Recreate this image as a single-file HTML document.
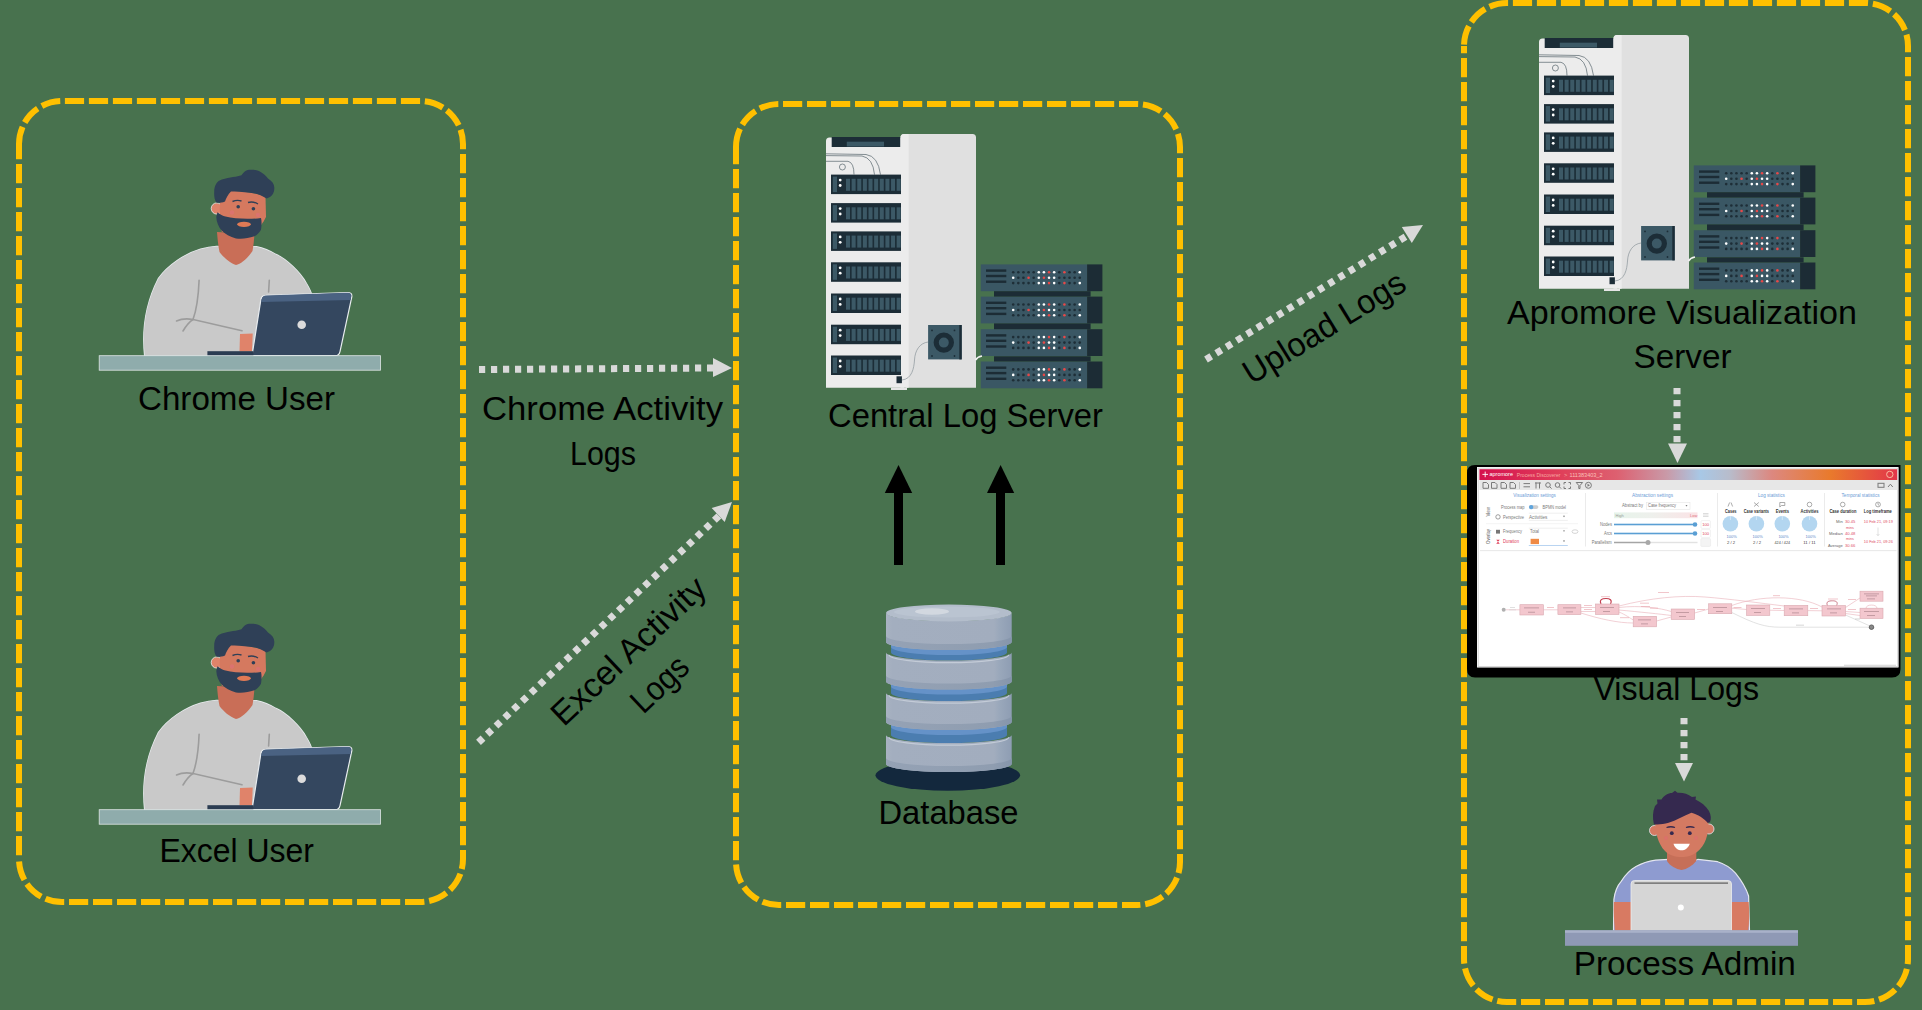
<!DOCTYPE html>
<html><head><meta charset="utf-8">
<style>
html,body{margin:0;padding:0;background:#48724e;width:1922px;height:1010px;overflow:hidden}
svg{display:block}
text{font-family:"Liberation Sans",sans-serif}
</style></head>
<body>
<svg width="1922" height="1010" viewBox="0 0 1922 1010">
<rect x="0" y="0" width="1922" height="1010" fill="#48724e"/>
<!-- dashed boxes -->
<g fill="none" stroke="#ffc000" stroke-width="6" stroke-dasharray="19.2 4.8">
<path d="M62,101 L420,101" stroke-dashoffset="21.10"/>
<path d="M463,144 L463,859" stroke-dashoffset="14.00"/>
<path d="M62,902 L420,902" stroke-dashoffset="17.00"/>
<path d="M19,144 L19,859" stroke-dashoffset="4.00"/>
<path d="M19,144 A43 43 0 0 1 62,101" stroke-dashoffset="1.56"/>
<path d="M420,101 A43 43 0 0 1 463,144" stroke-dashoffset="19.10"/>
<path d="M463,859 A43 43 0 0 1 420,902" stroke-dashoffset="9.00"/>
<path d="M19,859 A43 43 0 0 0 62,902" stroke-dashoffset="21.46"/>
<path d="M779,104 L1137,104" stroke-dashoffset="20.00"/>
<path d="M1180,147 L1180,862" stroke-dashoffset="13.00"/>
<path d="M779,905 L1137,905" stroke-dashoffset="17.00"/>
<path d="M736,147 L736,862" stroke-dashoffset="2.00"/>
<path d="M736,147 A43 43 0 0 1 779,104" stroke-dashoffset="0.46"/>
<path d="M1137,104 A43 43 0 0 1 1180,147" stroke-dashoffset="18.00"/>
<path d="M1180,862 A43 43 0 0 1 1137,905" stroke-dashoffset="8.00"/>
<path d="M736,862 A43 43 0 0 0 779,905" stroke-dashoffset="21.46"/>
<path d="M1507,3 L1865,3" stroke-dashoffset="18.10"/>
<path d="M1908,46 L1908,959" stroke-dashoffset="13.00"/>
<path d="M1507,1002 L1865,1002" stroke-dashoffset="10.00"/>
<path d="M1464,46 L1464,959" stroke-dashoffset="12.00"/>
<path d="M1464,46 A43 43 0 0 1 1507,3" stroke-dashoffset="22.56"/>
<path d="M1865,3 A43 43 0 0 1 1908,46" stroke-dashoffset="16.10"/>
<path d="M1908,959 A43 43 0 0 1 1865,1002" stroke-dashoffset="14.00"/>
<path d="M1464,959 A43 43 0 0 0 1507,1002" stroke-dashoffset="14.46"/>
</g>
<g id="srv">
<path d="M826,141 Q826,137.5 829.5,137.5 L904,137.5 L904,387.8 L826,387.8 Z" fill="#ececec"/>
<path d="M900.5,137.5 Q900.5,134 904,134 L972.5,134 Q976,134 976,137.5 L976,387.8 L906,387.8 L906,137.5 Z" fill="#e0e0e0"/>
<path d="M900.5,137.5 Q900.5,134 904,134 L908.6,134 L908.6,387.8 L900.5,387.8 Z" fill="#ececec"/>
<rect x="831.7" y="137" width="68.5" height="10" fill="#1c2d37"/>
<rect x="846.8" y="141.7" width="37.2" height="4.8" fill="#3c5966"/>
<g fill="none" stroke="#56646b" stroke-width="0.7">
<path d="M826,153.8 L866,154.5 Q878,156 880.5,174.6"/>
<path d="M826,155.6 L862,156 Q873,158 874.5,174.6"/>
<path d="M826,161.3 L848,161.3 Q854,162.5 854,174.6"/>
<circle cx="842.4" cy="167" r="3"/>
</g>
<g transform="translate(0,174.6)">
<rect x="831" y="0" width="70" height="19.5" fill="#1c2d37"/>
<rect x="832.8" y="2" width="4.2" height="15.5" fill="#3c5966"/>
<circle cx="840.2" cy="5.5" r="1.4" fill="#fff"/><circle cx="840.2" cy="10.9" r="1.4" fill="#fff"/>
<rect x="846.00" y="4.2" width="4.00" height="12" fill="#3c5966"/>
<rect x="851.63" y="4.2" width="4.00" height="12" fill="#3c5966"/>
<rect x="857.26" y="4.2" width="4.00" height="12" fill="#3c5966"/>
<rect x="862.89" y="4.2" width="4.00" height="12" fill="#3c5966"/>
<rect x="868.52" y="4.2" width="4.00" height="12" fill="#3c5966"/>
<rect x="874.15" y="4.2" width="4.00" height="12" fill="#3c5966"/>
<rect x="879.78" y="4.2" width="4.00" height="12" fill="#3c5966"/>
<rect x="885.41" y="4.2" width="4.00" height="12" fill="#3c5966"/>
<rect x="891.04" y="4.2" width="4.00" height="12" fill="#3c5966"/>
<rect x="896.67" y="4.2" width="4.00" height="12" fill="#3c5966"/>
</g>
<g transform="translate(0,203.1)">
<rect x="831" y="0" width="70" height="19.5" fill="#1c2d37"/>
<rect x="832.8" y="2" width="4.2" height="15.5" fill="#3c5966"/>
<circle cx="840.2" cy="5.5" r="1.4" fill="#fff"/><circle cx="840.2" cy="10.9" r="1.4" fill="#fff"/>
<rect x="846.00" y="4.2" width="4.00" height="12" fill="#3c5966"/>
<rect x="851.63" y="4.2" width="4.00" height="12" fill="#3c5966"/>
<rect x="857.26" y="4.2" width="4.00" height="12" fill="#3c5966"/>
<rect x="862.89" y="4.2" width="4.00" height="12" fill="#3c5966"/>
<rect x="868.52" y="4.2" width="4.00" height="12" fill="#3c5966"/>
<rect x="874.15" y="4.2" width="4.00" height="12" fill="#3c5966"/>
<rect x="879.78" y="4.2" width="4.00" height="12" fill="#3c5966"/>
<rect x="885.41" y="4.2" width="4.00" height="12" fill="#3c5966"/>
<rect x="891.04" y="4.2" width="4.00" height="12" fill="#3c5966"/>
<rect x="896.67" y="4.2" width="4.00" height="12" fill="#3c5966"/>
</g>
<g transform="translate(0,231.4)">
<rect x="831" y="0" width="70" height="19.5" fill="#1c2d37"/>
<rect x="832.8" y="2" width="4.2" height="15.5" fill="#3c5966"/>
<circle cx="840.2" cy="5.5" r="1.4" fill="#fff"/><circle cx="840.2" cy="10.9" r="1.4" fill="#fff"/>
<rect x="846.00" y="4.2" width="4.00" height="12" fill="#3c5966"/>
<rect x="851.63" y="4.2" width="4.00" height="12" fill="#3c5966"/>
<rect x="857.26" y="4.2" width="4.00" height="12" fill="#3c5966"/>
<rect x="862.89" y="4.2" width="4.00" height="12" fill="#3c5966"/>
<rect x="868.52" y="4.2" width="4.00" height="12" fill="#3c5966"/>
<rect x="874.15" y="4.2" width="4.00" height="12" fill="#3c5966"/>
<rect x="879.78" y="4.2" width="4.00" height="12" fill="#3c5966"/>
<rect x="885.41" y="4.2" width="4.00" height="12" fill="#3c5966"/>
<rect x="891.04" y="4.2" width="4.00" height="12" fill="#3c5966"/>
<rect x="896.67" y="4.2" width="4.00" height="12" fill="#3c5966"/>
</g>
<g transform="translate(0,262.3)">
<rect x="831" y="0" width="70" height="19.5" fill="#1c2d37"/>
<rect x="832.8" y="2" width="4.2" height="15.5" fill="#3c5966"/>
<circle cx="840.2" cy="5.5" r="1.4" fill="#fff"/><circle cx="840.2" cy="10.9" r="1.4" fill="#fff"/>
<rect x="846.00" y="4.2" width="4.00" height="12" fill="#3c5966"/>
<rect x="851.63" y="4.2" width="4.00" height="12" fill="#3c5966"/>
<rect x="857.26" y="4.2" width="4.00" height="12" fill="#3c5966"/>
<rect x="862.89" y="4.2" width="4.00" height="12" fill="#3c5966"/>
<rect x="868.52" y="4.2" width="4.00" height="12" fill="#3c5966"/>
<rect x="874.15" y="4.2" width="4.00" height="12" fill="#3c5966"/>
<rect x="879.78" y="4.2" width="4.00" height="12" fill="#3c5966"/>
<rect x="885.41" y="4.2" width="4.00" height="12" fill="#3c5966"/>
<rect x="891.04" y="4.2" width="4.00" height="12" fill="#3c5966"/>
<rect x="896.67" y="4.2" width="4.00" height="12" fill="#3c5966"/>
</g>
<g transform="translate(0,293.5)">
<rect x="831" y="0" width="70" height="19.5" fill="#1c2d37"/>
<rect x="832.8" y="2" width="4.2" height="15.5" fill="#3c5966"/>
<circle cx="840.2" cy="5.5" r="1.4" fill="#fff"/><circle cx="840.2" cy="10.9" r="1.4" fill="#fff"/>
<rect x="846.00" y="4.2" width="4.00" height="12" fill="#3c5966"/>
<rect x="851.63" y="4.2" width="4.00" height="12" fill="#3c5966"/>
<rect x="857.26" y="4.2" width="4.00" height="12" fill="#3c5966"/>
<rect x="862.89" y="4.2" width="4.00" height="12" fill="#3c5966"/>
<rect x="868.52" y="4.2" width="4.00" height="12" fill="#3c5966"/>
<rect x="874.15" y="4.2" width="4.00" height="12" fill="#3c5966"/>
<rect x="879.78" y="4.2" width="4.00" height="12" fill="#3c5966"/>
<rect x="885.41" y="4.2" width="4.00" height="12" fill="#3c5966"/>
<rect x="891.04" y="4.2" width="4.00" height="12" fill="#3c5966"/>
<rect x="896.67" y="4.2" width="4.00" height="12" fill="#3c5966"/>
</g>
<g transform="translate(0,324.7)">
<rect x="831" y="0" width="70" height="19.5" fill="#1c2d37"/>
<rect x="832.8" y="2" width="4.2" height="15.5" fill="#3c5966"/>
<circle cx="840.2" cy="5.5" r="1.4" fill="#fff"/><circle cx="840.2" cy="10.9" r="1.4" fill="#fff"/>
<rect x="846.00" y="4.2" width="4.00" height="12" fill="#3c5966"/>
<rect x="851.63" y="4.2" width="4.00" height="12" fill="#3c5966"/>
<rect x="857.26" y="4.2" width="4.00" height="12" fill="#3c5966"/>
<rect x="862.89" y="4.2" width="4.00" height="12" fill="#3c5966"/>
<rect x="868.52" y="4.2" width="4.00" height="12" fill="#3c5966"/>
<rect x="874.15" y="4.2" width="4.00" height="12" fill="#3c5966"/>
<rect x="879.78" y="4.2" width="4.00" height="12" fill="#3c5966"/>
<rect x="885.41" y="4.2" width="4.00" height="12" fill="#3c5966"/>
<rect x="891.04" y="4.2" width="4.00" height="12" fill="#3c5966"/>
<rect x="896.67" y="4.2" width="4.00" height="12" fill="#3c5966"/>
</g>
<g transform="translate(0,355.5)">
<rect x="831" y="0" width="70" height="19.5" fill="#1c2d37"/>
<rect x="832.8" y="2" width="4.2" height="15.5" fill="#3c5966"/>
<circle cx="840.2" cy="5.5" r="1.4" fill="#fff"/><circle cx="840.2" cy="10.9" r="1.4" fill="#fff"/>
<rect x="846.00" y="4.2" width="4.00" height="12" fill="#3c5966"/>
<rect x="851.63" y="4.2" width="4.00" height="12" fill="#3c5966"/>
<rect x="857.26" y="4.2" width="4.00" height="12" fill="#3c5966"/>
<rect x="862.89" y="4.2" width="4.00" height="12" fill="#3c5966"/>
<rect x="868.52" y="4.2" width="4.00" height="12" fill="#3c5966"/>
<rect x="874.15" y="4.2" width="4.00" height="12" fill="#3c5966"/>
<rect x="879.78" y="4.2" width="4.00" height="12" fill="#3c5966"/>
<rect x="885.41" y="4.2" width="4.00" height="12" fill="#3c5966"/>
<rect x="891.04" y="4.2" width="4.00" height="12" fill="#3c5966"/>
<rect x="896.67" y="4.2" width="4.00" height="12" fill="#3c5966"/>
</g>
<rect x="928.1" y="325" width="33.6" height="34.4" fill="#3c5966"/>
<rect x="959.3" y="325" width="2.4" height="34.4" fill="#1c2d37"/>
<circle cx="943.8" cy="342.6" r="7.6" fill="none" stroke="#1c2d37" stroke-width="5.2"/>
<circle cx="932" cy="330.4" r="0.9" fill="#1c2d37"/>
<circle cx="954.5" cy="330.4" r="0.9" fill="#1c2d37"/>
<circle cx="932" cy="356" r="0.9" fill="#1c2d37"/>
<circle cx="954.5" cy="356" r="0.9" fill="#1c2d37"/>
<rect x="896.5" y="376.3" width="5.4" height="6.9" fill="#1c2d37"/>
<path d="M902,380 C912,379 914,368 914.5,360 C915,350 920,343 928.1,342" fill="none" stroke="#8a9499" stroke-width="0.7"/>
<g transform="translate(0,264.4)">
<rect x="980.8" y="0" width="106.3" height="26.8" fill="#3a5764"/>
<rect x="1087.1" y="0" width="15.3" height="26.8" fill="#1c2c35"/>
<rect x="986" y="5.0" width="20.3" height="2.4" fill="#1c2c35"/>
<rect x="986" y="10.4" width="20.3" height="2.4" fill="#1c2c35"/>
<rect x="986" y="16.1" width="20.3" height="2.4" fill="#1c2c35"/>
<circle cx="1013.20" cy="7.9" r="1.3" fill="#1e2e37"/>
<circle cx="1018.32" cy="7.9" r="1.3" fill="#1e2e37"/>
<circle cx="1023.44" cy="7.9" r="1.3" fill="#1e2e37"/>
<circle cx="1028.56" cy="7.9" r="1.3" fill="#1e2e37"/>
<circle cx="1033.68" cy="7.9" r="1.3" fill="#1e2e37"/>
<circle cx="1038.80" cy="7.9" r="1.3" fill="#ffffff"/>
<circle cx="1043.92" cy="7.9" r="1.3" fill="#ffffff"/>
<circle cx="1049.04" cy="7.9" r="1.3" fill="#e84848"/>
<circle cx="1054.16" cy="7.9" r="1.3" fill="#ffffff"/>
<circle cx="1059.28" cy="7.9" r="1.3" fill="#1e2e37"/>
<circle cx="1064.40" cy="7.9" r="1.3" fill="#e84848"/>
<circle cx="1069.52" cy="7.9" r="1.3" fill="#1e2e37"/>
<circle cx="1074.64" cy="7.9" r="1.3" fill="#1e2e37"/>
<circle cx="1079.76" cy="7.9" r="1.3" fill="#ffffff"/>
<circle cx="1013.20" cy="13.4" r="1.3" fill="#ffffff"/>
<circle cx="1018.32" cy="13.4" r="1.3" fill="#1e2e37"/>
<circle cx="1023.44" cy="13.4" r="1.3" fill="#1e2e37"/>
<circle cx="1028.56" cy="13.4" r="1.3" fill="#e84848"/>
<circle cx="1033.68" cy="13.4" r="1.3" fill="#1e2e37"/>
<circle cx="1038.80" cy="13.4" r="1.3" fill="#ffffff"/>
<circle cx="1043.92" cy="13.4" r="1.3" fill="#e84848"/>
<circle cx="1049.04" cy="13.4" r="1.3" fill="#ffffff"/>
<circle cx="1054.16" cy="13.4" r="1.3" fill="#ffffff"/>
<circle cx="1059.28" cy="13.4" r="1.3" fill="#1e2e37"/>
<circle cx="1064.40" cy="13.4" r="1.3" fill="#1e2e37"/>
<circle cx="1069.52" cy="13.4" r="1.3" fill="#1e2e37"/>
<circle cx="1074.64" cy="13.4" r="1.3" fill="#1e2e37"/>
<circle cx="1079.76" cy="13.4" r="1.3" fill="#1e2e37"/>
<circle cx="1013.20" cy="18.7" r="1.3" fill="#1e2e37"/>
<circle cx="1018.32" cy="18.7" r="1.3" fill="#1e2e37"/>
<circle cx="1023.44" cy="18.7" r="1.3" fill="#1e2e37"/>
<circle cx="1028.56" cy="18.7" r="1.3" fill="#1e2e37"/>
<circle cx="1033.68" cy="18.7" r="1.3" fill="#1e2e37"/>
<circle cx="1038.80" cy="18.7" r="1.3" fill="#ffffff"/>
<circle cx="1043.92" cy="18.7" r="1.3" fill="#ffffff"/>
<circle cx="1049.04" cy="18.7" r="1.3" fill="#e84848"/>
<circle cx="1054.16" cy="18.7" r="1.3" fill="#ffffff"/>
<circle cx="1059.28" cy="18.7" r="1.3" fill="#1e2e37"/>
<circle cx="1064.40" cy="18.7" r="1.3" fill="#e84848"/>
<circle cx="1069.52" cy="18.7" r="1.3" fill="#1e2e37"/>
<circle cx="1074.64" cy="18.7" r="1.3" fill="#1e2e37"/>
<circle cx="1079.76" cy="18.7" r="1.3" fill="#ffffff"/>
</g>
<g transform="translate(0,296.6)">
<rect x="980.8" y="0" width="106.3" height="26.8" fill="#3a5764"/>
<rect x="1087.1" y="0" width="15.3" height="26.8" fill="#1c2c35"/>
<rect x="986" y="5.0" width="20.3" height="2.4" fill="#1c2c35"/>
<rect x="986" y="10.4" width="20.3" height="2.4" fill="#1c2c35"/>
<rect x="986" y="16.1" width="20.3" height="2.4" fill="#1c2c35"/>
<circle cx="1013.20" cy="7.9" r="1.3" fill="#1e2e37"/>
<circle cx="1018.32" cy="7.9" r="1.3" fill="#1e2e37"/>
<circle cx="1023.44" cy="7.9" r="1.3" fill="#1e2e37"/>
<circle cx="1028.56" cy="7.9" r="1.3" fill="#1e2e37"/>
<circle cx="1033.68" cy="7.9" r="1.3" fill="#1e2e37"/>
<circle cx="1038.80" cy="7.9" r="1.3" fill="#ffffff"/>
<circle cx="1043.92" cy="7.9" r="1.3" fill="#ffffff"/>
<circle cx="1049.04" cy="7.9" r="1.3" fill="#e84848"/>
<circle cx="1054.16" cy="7.9" r="1.3" fill="#ffffff"/>
<circle cx="1059.28" cy="7.9" r="1.3" fill="#1e2e37"/>
<circle cx="1064.40" cy="7.9" r="1.3" fill="#e84848"/>
<circle cx="1069.52" cy="7.9" r="1.3" fill="#1e2e37"/>
<circle cx="1074.64" cy="7.9" r="1.3" fill="#1e2e37"/>
<circle cx="1079.76" cy="7.9" r="1.3" fill="#ffffff"/>
<circle cx="1013.20" cy="13.4" r="1.3" fill="#ffffff"/>
<circle cx="1018.32" cy="13.4" r="1.3" fill="#1e2e37"/>
<circle cx="1023.44" cy="13.4" r="1.3" fill="#1e2e37"/>
<circle cx="1028.56" cy="13.4" r="1.3" fill="#e84848"/>
<circle cx="1033.68" cy="13.4" r="1.3" fill="#1e2e37"/>
<circle cx="1038.80" cy="13.4" r="1.3" fill="#ffffff"/>
<circle cx="1043.92" cy="13.4" r="1.3" fill="#e84848"/>
<circle cx="1049.04" cy="13.4" r="1.3" fill="#ffffff"/>
<circle cx="1054.16" cy="13.4" r="1.3" fill="#ffffff"/>
<circle cx="1059.28" cy="13.4" r="1.3" fill="#1e2e37"/>
<circle cx="1064.40" cy="13.4" r="1.3" fill="#1e2e37"/>
<circle cx="1069.52" cy="13.4" r="1.3" fill="#1e2e37"/>
<circle cx="1074.64" cy="13.4" r="1.3" fill="#1e2e37"/>
<circle cx="1079.76" cy="13.4" r="1.3" fill="#1e2e37"/>
<circle cx="1013.20" cy="18.7" r="1.3" fill="#1e2e37"/>
<circle cx="1018.32" cy="18.7" r="1.3" fill="#1e2e37"/>
<circle cx="1023.44" cy="18.7" r="1.3" fill="#1e2e37"/>
<circle cx="1028.56" cy="18.7" r="1.3" fill="#1e2e37"/>
<circle cx="1033.68" cy="18.7" r="1.3" fill="#1e2e37"/>
<circle cx="1038.80" cy="18.7" r="1.3" fill="#ffffff"/>
<circle cx="1043.92" cy="18.7" r="1.3" fill="#ffffff"/>
<circle cx="1049.04" cy="18.7" r="1.3" fill="#e84848"/>
<circle cx="1054.16" cy="18.7" r="1.3" fill="#ffffff"/>
<circle cx="1059.28" cy="18.7" r="1.3" fill="#1e2e37"/>
<circle cx="1064.40" cy="18.7" r="1.3" fill="#e84848"/>
<circle cx="1069.52" cy="18.7" r="1.3" fill="#1e2e37"/>
<circle cx="1074.64" cy="18.7" r="1.3" fill="#1e2e37"/>
<circle cx="1079.76" cy="18.7" r="1.3" fill="#ffffff"/>
</g>
<g transform="translate(0,329.2)">
<rect x="980.8" y="0" width="106.3" height="26.8" fill="#3a5764"/>
<rect x="1087.1" y="0" width="15.3" height="26.8" fill="#1c2c35"/>
<rect x="986" y="5.0" width="20.3" height="2.4" fill="#1c2c35"/>
<rect x="986" y="10.4" width="20.3" height="2.4" fill="#1c2c35"/>
<rect x="986" y="16.1" width="20.3" height="2.4" fill="#1c2c35"/>
<circle cx="1013.20" cy="7.9" r="1.3" fill="#1e2e37"/>
<circle cx="1018.32" cy="7.9" r="1.3" fill="#1e2e37"/>
<circle cx="1023.44" cy="7.9" r="1.3" fill="#1e2e37"/>
<circle cx="1028.56" cy="7.9" r="1.3" fill="#1e2e37"/>
<circle cx="1033.68" cy="7.9" r="1.3" fill="#1e2e37"/>
<circle cx="1038.80" cy="7.9" r="1.3" fill="#ffffff"/>
<circle cx="1043.92" cy="7.9" r="1.3" fill="#ffffff"/>
<circle cx="1049.04" cy="7.9" r="1.3" fill="#e84848"/>
<circle cx="1054.16" cy="7.9" r="1.3" fill="#ffffff"/>
<circle cx="1059.28" cy="7.9" r="1.3" fill="#1e2e37"/>
<circle cx="1064.40" cy="7.9" r="1.3" fill="#e84848"/>
<circle cx="1069.52" cy="7.9" r="1.3" fill="#1e2e37"/>
<circle cx="1074.64" cy="7.9" r="1.3" fill="#1e2e37"/>
<circle cx="1079.76" cy="7.9" r="1.3" fill="#ffffff"/>
<circle cx="1013.20" cy="13.4" r="1.3" fill="#ffffff"/>
<circle cx="1018.32" cy="13.4" r="1.3" fill="#1e2e37"/>
<circle cx="1023.44" cy="13.4" r="1.3" fill="#1e2e37"/>
<circle cx="1028.56" cy="13.4" r="1.3" fill="#e84848"/>
<circle cx="1033.68" cy="13.4" r="1.3" fill="#1e2e37"/>
<circle cx="1038.80" cy="13.4" r="1.3" fill="#ffffff"/>
<circle cx="1043.92" cy="13.4" r="1.3" fill="#e84848"/>
<circle cx="1049.04" cy="13.4" r="1.3" fill="#ffffff"/>
<circle cx="1054.16" cy="13.4" r="1.3" fill="#ffffff"/>
<circle cx="1059.28" cy="13.4" r="1.3" fill="#1e2e37"/>
<circle cx="1064.40" cy="13.4" r="1.3" fill="#1e2e37"/>
<circle cx="1069.52" cy="13.4" r="1.3" fill="#1e2e37"/>
<circle cx="1074.64" cy="13.4" r="1.3" fill="#1e2e37"/>
<circle cx="1079.76" cy="13.4" r="1.3" fill="#1e2e37"/>
<circle cx="1013.20" cy="18.7" r="1.3" fill="#1e2e37"/>
<circle cx="1018.32" cy="18.7" r="1.3" fill="#1e2e37"/>
<circle cx="1023.44" cy="18.7" r="1.3" fill="#1e2e37"/>
<circle cx="1028.56" cy="18.7" r="1.3" fill="#1e2e37"/>
<circle cx="1033.68" cy="18.7" r="1.3" fill="#1e2e37"/>
<circle cx="1038.80" cy="18.7" r="1.3" fill="#ffffff"/>
<circle cx="1043.92" cy="18.7" r="1.3" fill="#ffffff"/>
<circle cx="1049.04" cy="18.7" r="1.3" fill="#e84848"/>
<circle cx="1054.16" cy="18.7" r="1.3" fill="#ffffff"/>
<circle cx="1059.28" cy="18.7" r="1.3" fill="#1e2e37"/>
<circle cx="1064.40" cy="18.7" r="1.3" fill="#e84848"/>
<circle cx="1069.52" cy="18.7" r="1.3" fill="#1e2e37"/>
<circle cx="1074.64" cy="18.7" r="1.3" fill="#1e2e37"/>
<circle cx="1079.76" cy="18.7" r="1.3" fill="#ffffff"/>
</g>
<g transform="translate(0,361.5)">
<rect x="980.8" y="0" width="106.3" height="26.8" fill="#3a5764"/>
<rect x="1087.1" y="0" width="15.3" height="26.8" fill="#1c2c35"/>
<rect x="986" y="5.0" width="20.3" height="2.4" fill="#1c2c35"/>
<rect x="986" y="10.4" width="20.3" height="2.4" fill="#1c2c35"/>
<rect x="986" y="16.1" width="20.3" height="2.4" fill="#1c2c35"/>
<circle cx="1013.20" cy="7.9" r="1.3" fill="#1e2e37"/>
<circle cx="1018.32" cy="7.9" r="1.3" fill="#1e2e37"/>
<circle cx="1023.44" cy="7.9" r="1.3" fill="#1e2e37"/>
<circle cx="1028.56" cy="7.9" r="1.3" fill="#1e2e37"/>
<circle cx="1033.68" cy="7.9" r="1.3" fill="#1e2e37"/>
<circle cx="1038.80" cy="7.9" r="1.3" fill="#ffffff"/>
<circle cx="1043.92" cy="7.9" r="1.3" fill="#ffffff"/>
<circle cx="1049.04" cy="7.9" r="1.3" fill="#e84848"/>
<circle cx="1054.16" cy="7.9" r="1.3" fill="#ffffff"/>
<circle cx="1059.28" cy="7.9" r="1.3" fill="#1e2e37"/>
<circle cx="1064.40" cy="7.9" r="1.3" fill="#e84848"/>
<circle cx="1069.52" cy="7.9" r="1.3" fill="#1e2e37"/>
<circle cx="1074.64" cy="7.9" r="1.3" fill="#1e2e37"/>
<circle cx="1079.76" cy="7.9" r="1.3" fill="#ffffff"/>
<circle cx="1013.20" cy="13.4" r="1.3" fill="#ffffff"/>
<circle cx="1018.32" cy="13.4" r="1.3" fill="#1e2e37"/>
<circle cx="1023.44" cy="13.4" r="1.3" fill="#1e2e37"/>
<circle cx="1028.56" cy="13.4" r="1.3" fill="#e84848"/>
<circle cx="1033.68" cy="13.4" r="1.3" fill="#1e2e37"/>
<circle cx="1038.80" cy="13.4" r="1.3" fill="#ffffff"/>
<circle cx="1043.92" cy="13.4" r="1.3" fill="#e84848"/>
<circle cx="1049.04" cy="13.4" r="1.3" fill="#ffffff"/>
<circle cx="1054.16" cy="13.4" r="1.3" fill="#ffffff"/>
<circle cx="1059.28" cy="13.4" r="1.3" fill="#1e2e37"/>
<circle cx="1064.40" cy="13.4" r="1.3" fill="#1e2e37"/>
<circle cx="1069.52" cy="13.4" r="1.3" fill="#1e2e37"/>
<circle cx="1074.64" cy="13.4" r="1.3" fill="#1e2e37"/>
<circle cx="1079.76" cy="13.4" r="1.3" fill="#1e2e37"/>
<circle cx="1013.20" cy="18.7" r="1.3" fill="#1e2e37"/>
<circle cx="1018.32" cy="18.7" r="1.3" fill="#1e2e37"/>
<circle cx="1023.44" cy="18.7" r="1.3" fill="#1e2e37"/>
<circle cx="1028.56" cy="18.7" r="1.3" fill="#1e2e37"/>
<circle cx="1033.68" cy="18.7" r="1.3" fill="#1e2e37"/>
<circle cx="1038.80" cy="18.7" r="1.3" fill="#ffffff"/>
<circle cx="1043.92" cy="18.7" r="1.3" fill="#ffffff"/>
<circle cx="1049.04" cy="18.7" r="1.3" fill="#e84848"/>
<circle cx="1054.16" cy="18.7" r="1.3" fill="#ffffff"/>
<circle cx="1059.28" cy="18.7" r="1.3" fill="#1e2e37"/>
<circle cx="1064.40" cy="18.7" r="1.3" fill="#e84848"/>
<circle cx="1069.52" cy="18.7" r="1.3" fill="#1e2e37"/>
<circle cx="1074.64" cy="18.7" r="1.3" fill="#1e2e37"/>
<circle cx="1079.76" cy="18.7" r="1.3" fill="#ffffff"/>
</g>
<rect x="994" y="291.2" width="96.6" height="5.4" fill="#1c2c35"/>
<rect x="994" y="323.4" width="96.6" height="5.8" fill="#1c2c35"/>
<rect x="994" y="356.3" width="96.6" height="5.2" fill="#1c2c35"/>
<path d="M975.5,360 C977,357.5 979,356.5 982,356" fill="none" stroke="#f2f2f2" stroke-width="1.6"/>
<rect x="891" y="387.6" width="16" height="2.4" fill="#e6e6e6"/>
</g>
<use href="#srv" transform="translate(713,-99)"/>
<g id="usr">
<!-- halo -->
<g stroke="#e8ecef" stroke-width="1.6" stroke-linejoin="round">
<path d="M144.8,356 C142,330 145,305 158.4,278.8 C168,265 185,254 200.6,249.3 C207,247.5 212,246.8 216.5,246.5 L256.4,246.8 C262,248 270,251 276,254.6 C286,259 300,272 306.2,283.3 C309,288 311,292 312,296 L312,356 Z" fill="#c9c9c9"/>
</g>
<!-- shirt -->
<path d="M144.8,356 C142,330 145,305 158.4,278.8 C168,265 185,254 200.6,249.3 C207,247.5 212,246.8 216.5,246.5 L256.4,246.8 C262,248 270,251 276,254.6 C286,259 300,272 306.2,283.3 C309,288 311,292 312,296 L312,356 Z" fill="#c9c9c9"/>
<!-- neck -->
<path d="M217,232 L254.5,234 C254,240 253.5,246 252.5,251 C248,258 241,264 236,265 C230,263 223,257 219.5,252 C218,245 217.5,238 217,232 Z" fill="#c96e57"/>
<!-- shirt lines -->
<g stroke="#9c9c9c" stroke-width="1.6" fill="none" stroke-linecap="round">
<path d="M199.1,280.3 C198.5,295 196.5,310 193,319.5 L242,330.8"/>
<path d="M176.5,321 C183,318 188,318.5 193,319.5"/>
<path d="M183,331 C186,326 189,322 193,319.5"/>
<path d="M269.3,280.3 L268.6,292"/>
</g>
<!-- ear -->
<circle cx="216.8" cy="208.5" r="5.6" fill="#e0836a" stroke="#e8ecef" stroke-width="0.8"/>
<!-- face -->
<path d="M222,191 C235,190 255,192 265.5,197 L266,217 C263,224 258,229 252,232 L222,232 C219,224 219,200 222,191 Z" fill="#d5795f"/>
<!-- hair -->
<path d="M214.2,192.7 C214,186 217,181 221.8,179.6 C230,177 237,177 241.4,175.3 C244,172 246,170 249,169.8 C253,169.5 256,170 259,171 C263,173 266,176 268,178.5 C272,181 274.5,184 274.3,188 C274.5,193 272,197 266.5,198.5 C262,196 259,194 255,193.5 C247,192.5 238,191 231,191.6 C228,194 226,199 225,201.4 C221,203 218,203 216.3,202.5 C214.5,200 214,196 214.2,192.7 Z" fill="#2f4057"/>
<!-- beard -->
<path d="M217.4,212.3 C220,214.5 223,216 225.5,216.6 C235,219 250,219.5 261,218 C262,222 261.5,226 261,229.7 C259,233 257,235 254.5,236.3 C248,238.5 242,239 236,238.4 C230,237 225,234 221.8,230.8 C218.5,227 216.5,222 216.3,217 Z" fill="#2f4057"/>
<!-- mouth -->
<ellipse cx="244" cy="224.3" rx="6.8" ry="2.6" fill="#e07a55"/>
<!-- eyes/brows -->
<circle cx="238.2" cy="206.8" r="1.8" fill="#2f4057"/>
<circle cx="253.4" cy="208.8" r="1.8" fill="#2f4057"/>
<path d="M232.5,201.5 Q237,199.5 241.5,201" stroke="#2f4057" stroke-width="1.4" fill="none"/>
<path d="M248,202.5 Q253,201 258,204" stroke="#2f4057" stroke-width="1.4" fill="none"/>
<circle cx="232" cy="212.5" r="2.2" fill="#e0707a" opacity="0.6"/>
<circle cx="258" cy="215" r="2.2" fill="#e0707a" opacity="0.6"/>
<!-- hand -->
<path d="M240,334 L252.7,333.5 L252,351.5 L239.5,351.5 Z" fill="#e0836a"/>
<!-- laptop -->
<path d="M261,299 Q262,295.3 266,295.3 L347,292.5 Q352.5,292.3 351.8,297 L340,351.5 Q339.3,355.7 335,355.7 L252,355.7 Z" fill="#34475f" stroke="#e8ecef" stroke-width="1.2"/>
<path d="M262,298.5 Q263,295.6 266,295.6 L347,292.8 Q351.5,292.6 351.3,296 L350.5,300 L261.2,302 Z" fill="#4a6282"/>
<rect x="207.4" y="351.2" width="46" height="6" fill="#2b3c52"/>
<circle cx="301.7" cy="324.8" r="4.3" fill="#dcdcdc"/>
<!-- desk -->
<rect x="99.2" y="355.7" width="281.3" height="14.5" fill="#8facac" stroke="#dfe6e6" stroke-width="0.8"/>
</g>

<use href="#usr" transform="translate(0,454)"/>
<g id="db">
<g fill="#000"><rect x="894" y="490" width="9" height="75"/><polygon points="884.8,493 898.5,465 912.2,493"/><rect x="996" y="490" width="9" height="75"/><polygon points="987,493 1000.6,465 1014.2,493"/></g>
<ellipse cx="947.8" cy="775.3" rx="72.3" ry="15.4" fill="#13283d"/>
<defs><linearGradient id="dside" x1="886" x2="1011.7" y1="0" y2="0" gradientUnits="userSpaceOnUse">
<stop offset="0" stop-color="#a9b3c2"/><stop offset="0.05" stop-color="#a3aebf"/><stop offset="0.86" stop-color="#a2adbe"/><stop offset="0.9" stop-color="#9aa8bb"/><stop offset="1" stop-color="#8e9db3"/>
</linearGradient>
<linearGradient id="dshade" x1="886" x2="1011.7" y1="0" y2="0" gradientUnits="userSpaceOnUse">
<stop offset="0" stop-color="#95a2b5"/><stop offset="0.85" stop-color="#8f9db0"/><stop offset="1" stop-color="#8595ab"/>
</linearGradient></defs>
<path d="M891.0,640.0 L1007.0,640.0 L1007.0,652.5 A58.0 8.0 0 0 1 891.0,652.5 Z" fill="#4b7db0"/>
<path d="M891.0,642.0 A58.0 8.0 0 0 0 1007.0,642.0 L1007.0,647.0 A58.0 8.0 0 0 1 891.0,647.0 Z" fill="#6592c8"/>
<path d="M891.0,679.5 L1007.0,679.5 L1007.0,693.0 A58.0 8.0 0 0 1 891.0,693.0 Z" fill="#4b7db0"/>
<path d="M891.0,681.5 A58.0 8.0 0 0 0 1007.0,681.5 L1007.0,686.5 A58.0 8.0 0 0 1 891.0,686.5 Z" fill="#6592c8"/>
<path d="M891.0,720.0 L1007.0,720.0 L1007.0,735.0 A58.0 8.0 0 0 1 891.0,735.0 Z" fill="#4b7db0"/>
<path d="M891.0,722.0 A58.0 8.0 0 0 0 1007.0,722.0 L1007.0,727.0 A58.0 8.0 0 0 1 891.0,727.0 Z" fill="#6592c8"/>
<path d="M886.0,613.0 L886.0,642.0 A62.85000000000002 8.0 0 0 0 1011.7,642.0 L1011.7,613.0 A62.85000000000002 8.0 0 0 1 886.0,613.0 Z" fill="url(#dside)"/>
<path d="M886.0,636.0 A62.85000000000002 8.0 0 0 0 1011.7,636.0 L1011.7,642.0 A62.85000000000002 8.0 0 0 1 886.0,642.0 Z" fill="url(#dshade)"/>
<path d="M886.0,652.5 L886.0,681.5 A62.85000000000002 8.0 0 0 0 1011.7,681.5 L1011.7,652.5 A62.85000000000002 8.0 0 0 1 886.0,652.5 Z" fill="url(#dside)"/>
<path d="M886.0,675.5 A62.85000000000002 8.0 0 0 0 1011.7,675.5 L1011.7,681.5 A62.85000000000002 8.0 0 0 1 886.0,681.5 Z" fill="url(#dshade)"/>
<path d="M889.0,654.7 A59.85000000000002 8.0 0 0 0 1008.7,654.7" fill="none" stroke="#c3cbd7" stroke-width="1.2"/>
<path d="M886.0,693.0 L886.0,722.0 A62.85000000000002 8.0 0 0 0 1011.7,722.0 L1011.7,693.0 A62.85000000000002 8.0 0 0 1 886.0,693.0 Z" fill="url(#dside)"/>
<path d="M886.0,716.0 A62.85000000000002 8.0 0 0 0 1011.7,716.0 L1011.7,722.0 A62.85000000000002 8.0 0 0 1 886.0,722.0 Z" fill="url(#dshade)"/>
<path d="M889.0,695.2 A59.85000000000002 8.0 0 0 0 1008.7,695.2" fill="none" stroke="#c3cbd7" stroke-width="1.2"/>
<path d="M886.0,735.0 L886.0,764.0 A62.85000000000002 8.0 0 0 0 1011.7,764.0 L1011.7,735.0 A62.85000000000002 8.0 0 0 1 886.0,735.0 Z" fill="url(#dside)"/>
<path d="M886.0,758.0 A62.85000000000002 8.0 0 0 0 1011.7,758.0 L1011.7,764.0 A62.85000000000002 8.0 0 0 1 886.0,764.0 Z" fill="url(#dshade)"/>
<path d="M889.0,737.2 A59.85000000000002 8.0 0 0 0 1008.7,737.2" fill="none" stroke="#c3cbd7" stroke-width="1.2"/>
<ellipse cx="948.85" cy="613.0" rx="62.85000000000002" ry="8.5" fill="#b3bdcb"/>
<ellipse cx="946.85" cy="612.0" rx="52.85000000000002" ry="5.5" fill="#bac4d1"/>
<ellipse cx="932" cy="611.5" rx="17" ry="3.3" fill="#d2d8e0"/>
</g>
<g id="shot" font-family="Liberation Sans, sans-serif">
<defs>
<linearGradient id="hdr" x1="1479" x2="1897" y1="0" y2="0" gradientUnits="userSpaceOnUse">
<stop offset="0" stop-color="#d5104e"/>
<stop offset="0.2" stop-color="#e0405a"/>
<stop offset="0.33" stop-color="#dd6070"/>
<stop offset="0.45" stop-color="#c99aa8"/>
<stop offset="0.53" stop-color="#a8c8e6"/>
<stop offset="0.6" stop-color="#b8bccb"/>
<stop offset="0.7" stop-color="#dc8880"/>
<stop offset="0.84" stop-color="#e97a2c"/>
<stop offset="1" stop-color="#e2364a"/>
</linearGradient>
<linearGradient id="absg" x1="0" x2="1" y1="0" y2="0">
<stop offset="0" stop-color="#e6f4ea"/><stop offset="0.45" stop-color="#eef0ec"/><stop offset="1" stop-color="#fbe3e6"/>
</linearGradient>
</defs>
<path d="M1475,465 L1900.5,465 L1900.5,669 Q1900.5,677.5 1892,677.5 L1475,677.5 Q1467,677.5 1467,669 L1467,473 Q1467,465 1475,465 Z" fill="#000"/>
<rect x="1477" y="467" width="421.5" height="200.5" fill="#ffffff"/>
<rect x="1478.2" y="468.2" width="419.6" height="198.4" fill="none" stroke="#d4d4d4" stroke-width="1"/>
<rect x="1479.4" y="469.2" width="417.8" height="10.8" fill="url(#hdr)"/>
<rect x="1479.4" y="480" width="417.8" height="10" fill="#e7e7e7"/>
<!-- header -->
<g stroke="#ffffff" stroke-width="0.9" fill="none"><path d="M1485.2,471.6 L1485.2,477.2 M1482.4,474.4 L1488,474.4"/></g>
<text x="1489.5" y="476.3" font-size="5.2" fill="#ffffff" textLength="23.5" lengthAdjust="spacingAndGlyphs">apromore</text>
<text x="1516.8" y="476.6" font-size="5.6" fill="#f7a8a0" textLength="43.7" lengthAdjust="spacingAndGlyphs">Process Discoverer</text>
<text x="1564" y="476.6" font-size="5.6" fill="#f7a8a0">&gt;</text>
<text x="1569.5" y="476.6" font-size="5.6" fill="#fbc0b8" textLength="33" lengthAdjust="spacingAndGlyphs">111383403_2</text>
<circle cx="1889.8" cy="474.4" r="3.2" fill="none" stroke="#f9c8a8" stroke-width="0.9"/>
<!-- toolbar icons -->
<g fill="none" stroke="#7a7a7a" stroke-width="1">
<path d="M1483,482.5 L1486.5,482.5 L1488.5,484.5 L1488.5,488.3 L1483,488.3 Z"/>
<path d="M1491.5,482.5 L1495,482.5 L1497,484.5 L1497,488.3 L1491.5,488.3 Z"/>
<path d="M1501,482.5 L1504.5,482.5 L1506.5,484.5 L1506.5,488.3 L1501,488.3 Z"/>
<path d="M1510,482.5 L1513.5,482.5 L1515.5,484.5 L1515.5,488.3 L1510,488.3 Z"/>
<path d="M1523.5,483.6 L1530,483.6 M1523.5,486.8 L1530,486.8"/>
<path d="M1536,482.5 L1536,488.5 M1539.5,482.5 L1539.5,488.5 M1535,483 L1541,483"/>
<circle cx="1548" cy="485" r="2.3"/><path d="M1549.8,486.8 L1551.6,488.6"/>
<circle cx="1557.5" cy="485" r="2.3"/><path d="M1559.3,486.8 L1561.1,488.6"/>
<path d="M1564,484.5 L1564,482.5 L1566,482.5 M1568.5,482.5 L1570.5,482.5 L1570.5,484.5 M1570.5,486.5 L1570.5,488.5 L1568.5,488.5 M1566,488.5 L1564,488.5 L1564,486.5"/>
<path d="M1576.2,482.5 L1582.6,482.5 L1580,485.5 L1580,488.5 L1578.8,488.5 L1578.8,485.5 Z"/>
<circle cx="1588.4" cy="485.3" r="3"/>
<rect x="1878" y="483.3" width="6" height="4"/>
<path d="M1888,487 L1890.4,484.2 L1892.8,487"/>
</g>
<rect x="1519" y="482" width="0.6" height="7" fill="#aaa"/>
<polygon points="1587.5,483.8 1590,485.3 1587.5,486.8" fill="#7a7a7a"/>
<!-- section titles -->
<g font-size="5" fill="#6b9bd6">
<text x="1513.3" y="497.3" textLength="42.6" lengthAdjust="spacingAndGlyphs">Visualization settings</text>
<text x="1632" y="497.3" textLength="41" lengthAdjust="spacingAndGlyphs">Abstraction settings</text>
<text x="1758" y="497.3" textLength="26.8" lengthAdjust="spacingAndGlyphs">Log statistics</text>
<text x="1841.5" y="497.3" textLength="38" lengthAdjust="spacingAndGlyphs">Temporal statistics</text>
</g>
<g fill="#e2e2e2">
<rect x="1585.2" y="493" width="0.7" height="53.5"/>
<rect x="1717.2" y="493" width="0.7" height="53.5"/>
<rect x="1824" y="493" width="0.7" height="53.5"/>
<rect x="1480" y="550.3" width="416.5" height="0.8"/>
</g>
<!-- visualization settings -->
<g font-size="4.6" fill="#7a7a7a">
<text transform="translate(1489.5,516.6) rotate(-90)" textLength="9.6" lengthAdjust="spacingAndGlyphs" fill="#555">View</text>
<text transform="translate(1489.5,544) rotate(-90)" textLength="15" lengthAdjust="spacingAndGlyphs" fill="#555">Overlay</text>
<text x="1501" y="508.6" textLength="23.6" lengthAdjust="spacingAndGlyphs">Process map</text>
<text x="1542.6" y="508.6" textLength="23.4" lengthAdjust="spacingAndGlyphs">BPMN model</text>
<text x="1503" y="518.5" textLength="21" lengthAdjust="spacingAndGlyphs">Perspective</text>
<text x="1529" y="518.5" textLength="18.4" lengthAdjust="spacingAndGlyphs">Activities</text>
<text x="1503" y="533.2" textLength="19" lengthAdjust="spacingAndGlyphs">Frequency</text>
<text x="1530" y="533.2" textLength="9" lengthAdjust="spacingAndGlyphs">Total</text>
<text x="1503" y="543.4" textLength="16" lengthAdjust="spacingAndGlyphs" fill="#e0405a">Duration</text>
</g>
<rect x="1528.8" y="505.3" width="9.6" height="3.6" rx="1.8" fill="#cfcfcf"/>
<circle cx="1531.2" cy="507.1" r="2.2" fill="#5fa5dd"/>
<circle cx="1498" cy="516.9" r="2.2" fill="none" stroke="#777" stroke-width="0.7"/>
<rect x="1496" y="529.8" width="4" height="3.8" fill="#777"/>
<path d="M1496.2,539.8 L1499.8,539.8 L1496.2,543.8 L1499.8,543.8 Z" fill="#e0405a"/>
<g fill="#666"><polygon points="1563,515.8 1565,515.8 1564,517.2"/><polygon points="1563,530.4 1565,530.4 1564,531.8"/><polygon points="1563,540.6 1565,540.6 1564,542"/></g>
<g fill="#e4e4e4"><rect x="1528.8" y="519.9" width="39" height="0.6"/><rect x="1528.8" y="527.8" width="39" height="0.6"/><rect x="1528.8" y="512.8" width="39" height="0.6"/></g>
<rect x="1486" y="523.6" width="92" height="0.5" fill="#e8e8e8"/>
<rect x="1530.6" y="538.8" width="8.4" height="5.3" fill="#ef8a45"/>
<rect x="1528.8" y="545" width="39" height="0.6" fill="#8ab8e8"/>
<ellipse cx="1575" cy="531.6" rx="3" ry="1.8" fill="none" stroke="#bbb" stroke-width="0.6"/>
<!-- abstraction settings -->
<g font-size="4.6" fill="#777">
<text x="1622" y="507.4" textLength="21" lengthAdjust="spacingAndGlyphs">Abstract by</text>
<text x="1600" y="526" textLength="12" lengthAdjust="spacingAndGlyphs">Nodes</text>
<text x="1604" y="535" textLength="8" lengthAdjust="spacingAndGlyphs">Arcs</text>
<text x="1591.7" y="544" textLength="20" lengthAdjust="spacingAndGlyphs">Parallelism</text>
</g>
<rect x="1646.7" y="502.6" width="43.3" height="6.7" fill="#fff" stroke="#e6e6e6" stroke-width="0.6"/>
<polygon points="1685.5,505.3 1687.5,505.3 1686.5,506.6" fill="#555"/>
<text x="1648" y="507.4" font-size="4.6" fill="#777" textLength="28" lengthAdjust="spacingAndGlyphs">Case frequency</text>
<rect x="1614" y="512.4" width="83.5" height="5.8" fill="url(#absg)"/>
<text x="1615.5" y="516.8" font-size="4" fill="#999">High</text>
<text x="1690" y="516.8" font-size="4" fill="#e07080">Low</text>
<g fill="#5a9fd4"><rect x="1614" y="523.7" width="81" height="1.6"/><rect x="1614" y="532.7" width="81" height="1.6"/><circle cx="1695" cy="524.5" r="2.3"/><circle cx="1695" cy="533.5" r="2.3"/></g>
<rect x="1614" y="541.8" width="83.5" height="1.4" fill="#e2e2e2"/>
<rect x="1614" y="541.8" width="34" height="1.4" fill="#a5a5a5"/>
<circle cx="1648" cy="542.5" r="2.5" fill="#a8a8a8"/>
<g fill="#fff" stroke="#e8e8e8" stroke-width="0.6"><rect x="1701" y="520.6" width="9.4" height="7.8" rx="1"/><rect x="1701" y="529.6" width="9.4" height="7.8" rx="1"/><rect x="1700.8" y="538.6" width="9.8" height="7.8" rx="1" fill="#f4f4f4"/></g>
<g font-size="4.2" fill="#e05060"><text x="1702.2" y="526">100</text><text x="1702.2" y="535">100</text></g>
<g stroke="#bbb" stroke-width="0.5"><path d="M1703,513.5 L1708.5,513.5 M1703,515 L1708.5,515 M1703,516.5 L1708.5,516.5"/></g>
<!-- log statistics -->
<g fill="#b3d6f0"><circle cx="1730.4" cy="523.8" r="7.8"/><circle cx="1756.4" cy="523.8" r="7.8"/><circle cx="1782.3" cy="523.8" r="7.8"/><circle cx="1809.5" cy="523.8" r="7.8"/></g>
<g stroke="#e8f3fb" stroke-width="0.6"><path d="M1730.4,516 L1730.4,520 M1756.4,516 L1756.4,520 M1782.3,516 L1782.3,520 M1809.5,516 L1809.5,520"/></g>
<g font-size="4.6" fill="#333" font-weight="bold">
<text x="1725" y="513" textLength="11.5" lengthAdjust="spacingAndGlyphs">Cases</text>
<text x="1743.7" y="513" textLength="25.3" lengthAdjust="spacingAndGlyphs">Case variants</text>
<text x="1775.7" y="513" textLength="13.3" lengthAdjust="spacingAndGlyphs">Events</text>
<text x="1800.5" y="513" textLength="18" lengthAdjust="spacingAndGlyphs">Activities</text>
<text x="1829.4" y="513" textLength="27" lengthAdjust="spacingAndGlyphs">Case duration</text>
<text x="1863.8" y="513" textLength="28" lengthAdjust="spacingAndGlyphs">Log timeframe</text>
</g>
<g font-size="4" fill="#5a88c8"><text x="1726.5" y="538">100%</text><text x="1752.5" y="538">100%</text><text x="1778.4" y="538">100%</text><text x="1805.6" y="538">100%</text></g>
<g font-size="4.2" fill="#444"><text x="1727" y="543.6">2 / 2</text><text x="1753" y="543.6">2 / 2</text><text x="1774.5" y="543.6" textLength="15.6" lengthAdjust="spacingAndGlyphs">424 / 424</text><text x="1803.3" y="543.6" textLength="12.4" lengthAdjust="spacingAndGlyphs">11 / 11</text></g>
<g fill="none" stroke="#888" stroke-width="0.7">
<path d="M1728,506.5 L1729.6,502.5 M1731,502.5 L1732.6,506.5"/>
<path d="M1754,502.5 L1758.8,506.5 M1754,506.5 L1758.8,502.5"/>
<path d="M1779.8,502.5 L1784.8,502.5 L1784.8,505.5 L1781.5,505.5 L1779.8,507 Z"/>
<circle cx="1809.5" cy="504.5" r="2.3"/>
<circle cx="1842.7" cy="504.5" r="2.3"/>
<circle cx="1878" cy="504.5" r="2.4"/><path d="M1878,503 L1878,504.5 L1879.2,505.4"/>
</g>
<!-- temporal -->
<g font-size="4.2" fill="#666"><text x="1836" y="523.3" textLength="6.7" lengthAdjust="spacingAndGlyphs">Min</text><text x="1829" y="535.2" textLength="13.7" lengthAdjust="spacingAndGlyphs">Median</text><text x="1828" y="546.8" textLength="14.7" lengthAdjust="spacingAndGlyphs">Average</text></g>
<g font-size="4.2" fill="#e05068"><text x="1845" y="523.3" textLength="10.4" lengthAdjust="spacingAndGlyphs">30.45</text><text x="1846" y="528.7" textLength="8" lengthAdjust="spacingAndGlyphs">mins</text><text x="1845" y="535.2" textLength="10.4" lengthAdjust="spacingAndGlyphs">40.48</text><text x="1846" y="540.2" textLength="8" lengthAdjust="spacingAndGlyphs">mins</text><text x="1845" y="546.8" textLength="10.4" lengthAdjust="spacingAndGlyphs">30.66</text>
<text x="1863.8" y="523.3" textLength="29" lengthAdjust="spacingAndGlyphs">10 Feb 21, 09:19</text><text x="1863.8" y="543.4" textLength="29" lengthAdjust="spacingAndGlyphs">10 Feb 21, 09:26</text></g>
<path d="M1878,527.5 L1878,535.5 M1876.6,534 L1878,535.8 L1879.4,534" fill="none" stroke="#cfcfcf" stroke-width="0.6"/>
<!-- graph -->
<g fill="none" stroke="#eab0b8" stroke-width="0.6">
<path d="M1506,609.8 L1519.9,609.8"/>
<path d="M1543.4,609.8 L1557.9,609.8"/>
<path d="M1580.9,607.5 L1595.5,607.5"/><path d="M1580.9,611.5 L1595.5,611.5"/>
<path d="M1619,606 C1650,598 1680,595 1705,597 C1730,599 1760,603 1784.2,606"/>
<path d="M1619,607.5 C1640,605 1660,608 1671.2,611.5"/>
<path d="M1619,610 C1640,612 1660,614 1671.2,615.5"/>
<path d="M1619,612 C1626,615 1630,618 1633.2,620"/>
<path d="M1580.9,613 C1600,619 1618,623 1633.2,623"/>
<path d="M1656.6,621 L1671.2,617"/>
<path d="M1694.6,613 L1708.7,609"/>
<path d="M1731.8,608.2 L1746.6,609.5"/><path d="M1769.8,610.2 L1784.2,610.5"/><path d="M1807.8,610.6 L1822,610.8"/>
<path d="M1731.8,605.5 C1760,595 1800,595 1822,607"/>
<path d="M1845.5,607.5 L1860,598"/><path d="M1845.5,611.5 L1860,612.5"/><path d="M1845.5,613.5 L1860,615.5"/>
<path d="M1866,608.2 C1866,604 1877,604 1877,608.2"/>
</g>
<g fill="none" stroke="#cfcfcf" stroke-width="0.6">
<path d="M1731.8,612.5 C1755,624 1765,627.2 1780,627.2 L1870,627.2"/>
<path d="M1845.5,615 L1870,626"/>
<path d="M1509,609.8 L1516,609.8"/>
</g>
<path d="M1601,604 C1599,599.5 1602,598.5 1606,598.5 C1610,598.5 1612.5,600 1610.5,604" fill="none" stroke="#c44050" stroke-width="1.1"/>
<path d="M1827.5,605.6 C1825.5,601.5 1829,600.8 1832.5,600.8 C1836,600.8 1838.5,602 1836.5,605.6" fill="none" stroke="#c06070" stroke-width="0.8"/>
<circle cx="1503.7" cy="609.8" r="2" fill="#b0b0b0"/>
<circle cx="1871.5" cy="627.2" r="2.3" fill="#888" stroke="#444" stroke-width="0.7"/>
<g fill="#f3c7ce" stroke="#d9a8b0" stroke-width="0.6">
<rect x="1519.9" y="604.7" width="23.5" height="10.3"/>
<rect x="1557.9" y="604.7" width="23" height="9.9"/>
<rect x="1595.5" y="604" width="23.5" height="10.4"/>
<rect x="1633.2" y="616.3" width="23.4" height="10.5"/>
<rect x="1671.2" y="609" width="23.4" height="10.5"/>
<rect x="1708.7" y="603.8" width="23.1" height="9.9"/>
<rect x="1746.6" y="605" width="23.2" height="10.4"/>
<rect x="1784.2" y="605.4" width="23.6" height="10.3"/>
<rect x="1822" y="605.6" width="23.5" height="10.4"/>
<rect x="1860" y="591.2" width="23" height="10"/>
<rect x="1860" y="608.2" width="23" height="10.3"/>
</g>
<g fill="#b89098">
<rect x="1524" y="607.5" width="15" height="0.8"/><rect x="1528" y="611.8" width="7" height="0.8"/>
<rect x="1563" y="607.5" width="13" height="0.8"/><rect x="1566" y="611.5" width="7" height="0.8"/>
<rect x="1600" y="607" width="14" height="0.8"/><rect x="1603" y="611" width="7" height="0.8"/>
<rect x="1638" y="619.5" width="13" height="0.8"/><rect x="1641" y="623.5" width="7" height="0.8"/>
<rect x="1676" y="612" width="13" height="0.8"/><rect x="1679" y="616" width="7" height="0.8"/>
<rect x="1713" y="607" width="14" height="0.8"/><rect x="1716" y="611" width="7" height="0.8"/>
<rect x="1751" y="608" width="14" height="0.8"/><rect x="1754" y="612" width="7" height="0.8"/>
<rect x="1789" y="608.5" width="14" height="0.8"/><rect x="1792" y="612.5" width="7" height="0.8"/>
<rect x="1827" y="608.5" width="14" height="0.8"/><rect x="1830" y="612.5" width="7" height="0.8"/>
<rect x="1864" y="593.5" width="15" height="0.8"/><rect x="1866" y="595.5" width="11" height="0.8"/><rect x="1867" y="598.5" width="8" height="0.8"/>
<rect x="1864" y="611" width="15" height="0.8"/><rect x="1867" y="615" width="8" height="0.8"/>
</g>
<g fill="#e8a0a8">
<rect x="1510" y="607.2" width="5" height="0.6" fill="#ccc"/>
<rect x="1547" y="607.2" width="7" height="0.6"/>
<rect x="1584" y="605.3" width="8" height="0.6"/><rect x="1584" y="609.3" width="8" height="0.6"/>
<rect x="1601" y="596.5" width="9" height="0.6"/>
<rect x="1658" y="592.3" width="11" height="0.6"/>
<rect x="1640" y="602.8" width="9" height="0.6"/><rect x="1641" y="606" width="9" height="0.6"/>
<rect x="1620" y="617.5" width="9" height="0.6"/><rect x="1650" y="607.8" width="8" height="0.6"/>
<rect x="1697" y="609.3" width="8" height="0.6"/>
<rect x="1733.5" y="607" width="8" height="0.6"/><rect x="1773" y="608.3" width="8" height="0.6"/><rect x="1810" y="608.3" width="8" height="0.6"/>
<rect x="1773" y="595.5" width="7" height="0.6"/><rect x="1828" y="598.7" width="10" height="0.6"/>
<rect x="1848" y="599.3" width="8" height="0.6"/><rect x="1848" y="609" width="8" height="0.6"/>
<rect x="1796" y="624.8" width="8" height="0.6" fill="#bbb"/>
<rect x="1855" y="618.7" width="5" height="0.6" fill="#bbb"/>
</g>
<rect x="1844" y="664.8" width="52" height="0.8" fill="#c8c8c8"/>
</g>

<g id="adm">
<!-- shirt -->
<path d="M1613.5,931 L1613.9,899.3 C1615,891 1617,886 1621.2,881.3 C1626,874 1630,870 1636,866.6 C1643,862.5 1649,861 1655.5,860.1 L1668.6,859.3 L1681.6,866 L1698,859.3 L1717.6,861.7 C1725,864 1731,868 1735.5,873.2 C1741,880 1746,888 1748.6,896 L1749.5,931 Z" fill="#8e9bd0" stroke="#e4e6ef" stroke-width="1.2"/>
<!-- neck -->
<path d="M1667,850 L1696.3,850 L1696.3,861 C1692,866 1687,869 1681.6,870 C1676,869 1670,866 1667,861 Z" fill="#c66f58"/>
<!-- ears -->
<circle cx="1654.5" cy="830.5" r="5" fill="#d47a62" stroke="#e4e6ef" stroke-width="0.8"/>
<circle cx="1709" cy="829" r="5" fill="#d47a62" stroke="#e4e6ef" stroke-width="0.8"/>
<!-- face -->
<path d="M1655,818 C1655,808 1668,803 1682,803 C1697,803 1708,810 1708.5,820 C1709,835 1705,846 1697,852 C1692,856 1687,857 1681.6,857 C1675,857 1669,855 1665,851 C1658,844 1655,832 1655,818 Z" fill="#d47a62"/>
<!-- hair -->
<path d="M1653.9,824.2 C1652.5,818 1652.5,812 1655,806 L1657.5,803.5 L1657,799.5 L1661.5,799.5 C1664,795.5 1668,793 1672,793 L1675,790.8 L1677.5,792.8 C1683,792.5 1688,794 1692,797 L1696,796.5 L1695.5,799.5 C1701,802 1706,806 1709,811 C1711,815 1711.5,819 1710,822 L1707.8,823 C1704,818.5 1698,814.5 1691.4,812.8 C1684,816 1676,820.5 1668.6,822.8 C1663,824.3 1658,824.8 1653.9,824.2 Z" fill="#35294f"/>
<!-- eyes -->
<circle cx="1671.8" cy="833.2" r="1.9" fill="#35294f"/>
<circle cx="1689.8" cy="833.2" r="1.9" fill="#35294f"/>
<path d="M1666.5,827.5 Q1671,826 1675,827.5" stroke="#35294f" stroke-width="1.3" fill="none"/>
<path d="M1686,827.5 Q1690,826 1694.5,827.5" stroke="#35294f" stroke-width="1.3" fill="none"/>
<circle cx="1666" cy="838" r="2" fill="#e26a72" opacity="0.5"/>
<circle cx="1696" cy="838" r="2" fill="#e26a72" opacity="0.5"/>
<!-- smile -->
<path d="M1673.5,843.8 L1689.8,843.8 C1688,848.5 1685,850.3 1681.6,850.3 C1678,850.3 1675,848.5 1673.5,843.8 Z" fill="#ffffff"/>
<!-- arms -->
<path d="M1613.9,902 L1634,902 L1634.3,932 L1615,932 C1614,922 1613.5,912 1613.9,902 Z" fill="#d87a62"/>
<path d="M1729,902 L1748.6,902 C1749.5,912 1749.5,922 1748,932 L1729,932 Z" fill="#d87a62"/>
<!-- laptop -->
<path d="M1631,884 Q1631,880.5 1634.5,880.5 L1728,880.5 Q1731.5,880.5 1731.5,884 L1731.5,932.8 L1631,932.8 Z" fill="#d6d6d6" stroke="#eeeeee" stroke-width="0.8"/>
<rect x="1634.5" y="882.5" width="93.5" height="1.2" fill="#5a5a5a"/>
<circle cx="1680.8" cy="907.5" r="3" fill="#ffffff"/>
<!-- desk -->
<rect x="1565" y="930.3" width="233" height="15.5" fill="#8f99b5"/>
<rect x="1565" y="930.3" width="233" height="2.5" fill="#a9b1c9"/>
</g>

<!-- dotted arrows -->
<g stroke="#d9d9d9" stroke-width="7" stroke-dasharray="6.2 5.8" fill="none">
<line x1="479" y1="369.5" x2="714" y2="368"/>
<line x1="478.5" y1="742.4" x2="719.5" y2="515.4"/>
<line x1="1206" y1="359.5" x2="1407" y2="235.8"/>
<line x1="1677" y1="388" x2="1677" y2="445"/>
<line x1="1684" y1="718" x2="1684" y2="763"/>
</g>
<g fill="#d9d9d9">
<polygon points="713,358 732,368 713,377"/>
<polygon points="732,502 724.7,521.9 711.7,508.1"/>
<polygon points="1423,225 1411.8,243.1 1401.8,226.9"/>
<polygon points="1668,443.5 1687,443.5 1677.5,463"/>
<polygon points="1675,763 1693,763 1684,781.5"/>
</g>
<!-- texts -->
<g font-size="33.5" fill="#000">
<text x="138" y="410" textLength="197" lengthAdjust="spacingAndGlyphs">Chrome User</text>
<text x="159.5" y="862" textLength="154.5" lengthAdjust="spacingAndGlyphs">Excel User</text>
<text x="482" y="419.6" textLength="241" lengthAdjust="spacingAndGlyphs">Chrome Activity</text>
<text x="570" y="465" textLength="66" lengthAdjust="spacingAndGlyphs">Logs</text>
<text x="828" y="426.5" textLength="275" lengthAdjust="spacingAndGlyphs">Central Log Server</text>
<text x="878.5" y="823.7" textLength="140" lengthAdjust="spacingAndGlyphs">Database</text>
<text x="1507" y="323.7" textLength="350" lengthAdjust="spacingAndGlyphs">Apromore Visualization</text>
<text x="1633.5" y="368.3" textLength="98" lengthAdjust="spacingAndGlyphs">Server</text>
<text x="1593.5" y="699.7" textLength="165.5" lengthAdjust="spacingAndGlyphs">Visual Logs</text>
<text x="1573.8" y="974.9" textLength="222" lengthAdjust="spacingAndGlyphs">Process Admin</text>
<g transform="translate(643.5,667) rotate(-43.3)" text-anchor="middle">
<text x="0" y="-10.7" textLength="199" lengthAdjust="spacingAndGlyphs">Excel Activity</text>
<text x="0" y="34.7" textLength="66" lengthAdjust="spacingAndGlyphs">Logs</text>
</g>
<g transform="translate(1323.7,326.8) rotate(-31.5)" text-anchor="middle">
<text x="0" y="12" textLength="184" lengthAdjust="spacingAndGlyphs">Upload Logs</text>
</g>
</g>
</svg>
</body></html>
